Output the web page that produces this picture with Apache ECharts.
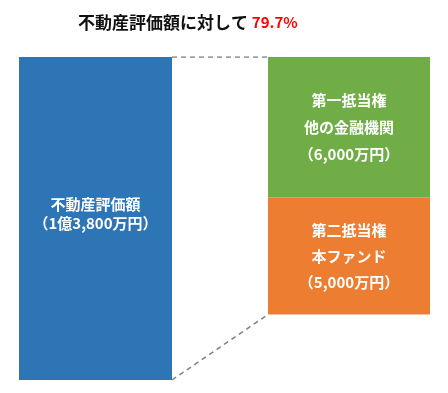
<!DOCTYPE html>
<html>
<head>
<meta charset="utf-8">
<script src="https://cdn.jsdelivr.net/npm/echarts@6/dist/echarts.min.js"></script>
<style>html,body{margin:0;padding:0;background:#fff;}#c{width:448px;height:393px;}</style>
</head>
<body>
<div id="c"></div>
<script>
// ---- data ----
const titleText = '不動産評価額に対して ';
const ratioText = '79.7%';
const leftCategories = ['不動産評価額'];
const leftValues = [13800];
const leftLabel = '不動産評価額\n（1億3,800万円）';
const rightCategories = ['抵当権'];
const rightBase = [2800];      // 13800 - (6000 + 5000)
const orangeValues = [5000];
const greenValues = [6000];
const greenLabel = '第一抵当権\n他の金融機関\n（6,000万円）';
const orangeLabel = '第二抵当権\n本ファンド\n（5,000万円）';
const connectorTop = [[0, 13800], [1, 13800]];
const connectorBottom = [[0, 0], [1, 2800]];
const yMax = 13800;

const FONT = '"Noto Sans CJK JP", "Noto Sans", sans-serif';
const chart = echarts.init(document.getElementById('c'), null, {renderer: 'canvas'});

const labelBase = {
  show: true, position: 'inside', color: '#fff', fontWeight: 'bold',
  fontSize: 15, fontFamily: FONT
};

chart.setOption({
  animation: false,
  backgroundColor: '#fff',
  title: {
    left: 73, top: 9,
    text: '{a|' + titleText + '}{b|' + ratioText + '}',
    textStyle: {
      rich: {
        a: {fontSize: 17, fontWeight: 'bold', color: '#111', fontFamily: FONT},
        b: {fontSize: 15, fontWeight: 'bold', color: '#ff0000', fontFamily: FONT}
      }
    }
  },
  grid: [
    {left: 19, width: 153, top: 57, bottom: 13},
    {left: 268, width: 162, top: 57, bottom: 13},
    {left: 172, width: 96, top: 57, bottom: 13}
  ],
  xAxis: [
    {type: 'category', gridIndex: 0, data: leftCategories, show: false},
    {type: 'category', gridIndex: 1, data: rightCategories, show: false},
    {type: 'value', gridIndex: 2, min: 0, max: 1, show: false}
  ],
  yAxis: [
    {type: 'value', gridIndex: 0, min: 0, max: yMax, show: false},
    {type: 'value', gridIndex: 1, min: 0, max: yMax, show: false},
    {type: 'value', gridIndex: 2, min: 0, max: yMax, show: false}
  ],
  series: [
    {
      type: 'bar', xAxisIndex: 0, yAxisIndex: 0, data: leftValues, barWidth: '100%',
      itemStyle: {color: '#2E75B6'},
      label: Object.assign({}, labelBase, {formatter: leftLabel, lineHeight: 19, offset: [0, -5]})
    },
    {
      type: 'bar', xAxisIndex: 1, yAxisIndex: 1, stack: 'r', data: rightBase, barWidth: '100%',
      itemStyle: {color: 'transparent'}, silent: true
    },
    {
      type: 'bar', xAxisIndex: 1, yAxisIndex: 1, stack: 'r', data: orangeValues, barWidth: '100%',
      itemStyle: {color: '#ED7D31'},
      label: Object.assign({}, labelBase, {formatter: orangeLabel, lineHeight: 26})
    },
    {
      type: 'bar', xAxisIndex: 1, yAxisIndex: 1, stack: 'r', data: greenValues, barWidth: '100%',
      itemStyle: {color: '#70AD47'},
      label: Object.assign({}, labelBase, {formatter: greenLabel, lineHeight: 27})
    },
    {
      type: 'line', xAxisIndex: 2, yAxisIndex: 2, data: connectorTop, symbol: 'none',
      lineStyle: {color: '#808080', width: 1.5, type: [5, 4]}
    },
    {
      type: 'line', xAxisIndex: 2, yAxisIndex: 2, data: connectorBottom, symbol: 'none',
      lineStyle: {color: '#808080', width: 1.5, type: [5, 4]}
    }
  ]
});
</script>
</body>
</html>
